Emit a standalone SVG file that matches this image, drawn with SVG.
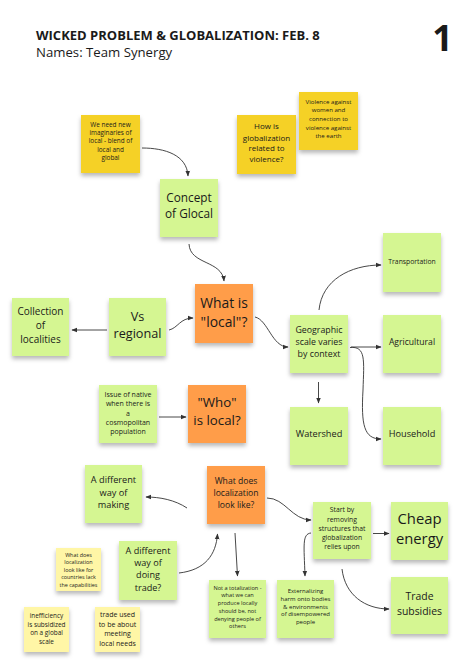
<svg xmlns="http://www.w3.org/2000/svg" width="474" height="661" viewBox="0 0 474 661">
<defs>
<filter id="sh" x="-20%" y="-20%" width="140%" height="150%">
<feDropShadow dx="0" dy="3" stdDeviation="2" flood-color="#000" flood-opacity="0.28"/>
</filter>
<marker id="ah" viewBox="0 0 10 10" refX="9" refY="5" markerWidth="6" markerHeight="6" markerUnits="userSpaceOnUse" orient="auto">
<path d="M0,1 L10,5 L0,9 Z" fill="#333"/>
</marker>
<style>
text{font-family:"Open Sans","Noto Sans","Liberation Sans",sans-serif;fill:#1a1a1a;text-anchor:middle}
.y{fill:#f5d128;filter:url(#sh)}
.p{fill:#fff6a6;filter:url(#sh)}
.g{fill:#d5f692;filter:url(#sh)}
.o{fill:#ff9d48;filter:url(#sh)}
.c path{fill:none;stroke:#333;stroke-width:0.9;marker-end:url(#ah)}
</style>
</defs>
<rect width="474" height="661" fill="#fff"/>
<g id="header">
<text x="36" y="39.5" style="text-anchor:start;font-weight:700;font-size:13px">WICKED PROBLEM &amp; GLOBALIZATION: FEB. 8</text>
<text x="36" y="57" style="text-anchor:start;font-size:13.2px">Names: Team Synergy</text>
<text x="442.5" y="50.5" style="font-weight:700;font-size:36px">1</text>
</g>
<g class="c" id="connectors">
<path d="M142,148 C165,148 187,155 188,176"/>
<path d="M189,244 C190,265 222,260 224,281"/>
<path d="M107,330 L72,330"/>
<path d="M169,330 C178,328 180,318 193,318"/>
<path d="M255,317 C268,320 272,347 288,347"/>
<path d="M319,310 C322,280 350,265 381,265"/>
<path d="M351,347 L381,347"/>
<path d="M350,347.5 C366,346 364,360 363,390 C361,425 364,439 381,439"/>
<path d="M318.5,382 L318.5,403"/>
<path d="M159,417 L186,417"/>
<path d="M187,508 C175,500 160,497 146,497"/>
<path d="M179,573 C205,570 216,555 217.5,534"/>
<path d="M235,533 L237.5,576"/>
<path d="M267,498 C285,498 292,520 311,520"/>
<path d="M373,533.5 L389,533.5"/>
<path d="M311,533 C302,534 304,545 305,576"/>
<path d="M342,569 C345,595 365,609 389,609"/>
</g>
<g id="n-imaginaries"><rect class="y" x="81" y="115" width="59" height="58"/>
<text style="font-size:6.4px"><tspan x="110.5" y="126.5">We need new</tspan><tspan x="110.5" y="134.9">imaginaries of</tspan><tspan x="110.5" y="143.2">local - blend of</tspan><tspan x="110.5" y="151.9">local and</tspan><tspan x="110.5" y="160.2">global</tspan></text></g>
<g id="n-violence-q"><rect class="y" x="237" y="115" width="59" height="59"/>
<text style="font-size:8px"><tspan x="266.5" y="129.3">How is</tspan><tspan x="266.5" y="140.5">globalization</tspan><tspan x="266.5" y="151.3">related to</tspan><tspan x="266.5" y="162.1">violence?</tspan></text></g>
<g id="n-violence-women"><rect class="y" x="299" y="92" width="59" height="58"/>
<text style="font-size:6.1px"><tspan x="328.5" y="103.8">Violence against</tspan><tspan x="328.5" y="112.4">women and</tspan><tspan x="328.5" y="120.9">connection to</tspan><tspan x="328.5" y="129.6">violence against</tspan><tspan x="328.5" y="138.2">the earth</tspan></text></g>
<g id="n-glocal"><rect class="g" x="160" y="179" width="58" height="58"/>
<text style="font-size:11.8px"><tspan x="189" y="202.4">Concept</tspan><tspan x="189" y="218.4">of Glocal</tspan></text></g>
<g id="n-local"><rect class="o" x="195" y="284" width="58" height="59"/>
<text style="font-size:13.9px"><tspan x="224" y="307.6">What is</tspan><tspan x="224" y="326.6">"local"?</tspan></text></g>
<g id="n-collection"><rect class="g" x="12" y="298" width="57" height="58"/>
<text style="font-size:10px"><tspan x="40.5" y="315.2">Collection</tspan><tspan x="40.5" y="329">of</tspan><tspan x="40.5" y="342.6">localities</tspan></text></g>
<g id="n-regional"><rect class="g" x="109" y="298" width="57" height="58"/>
<text style="font-size:12.7px"><tspan x="137.5" y="321.1">Vs</tspan><tspan x="137.5" y="338.4">regional</tspan></text></g>
<g id="n-geographic"><rect class="g" x="290" y="315" width="58" height="58"/>
<text style="font-size:8.8px"><tspan x="319" y="333.1">Geographic</tspan><tspan x="319" y="345.3">scale varies</tspan><tspan x="319" y="357.3">by context</tspan></text></g>
<g id="n-transportation"><rect class="g" x="383" y="233" width="58" height="59"/>
<text x="412" y="264.1" style="font-size:6.8px">Transportation</text></g>
<g id="n-agricultural"><rect class="g" x="383" y="315" width="58" height="58"/>
<text x="412" y="345.3" style="font-size:8.6px">Agricultural</text></g>
<g id="n-watershed"><rect class="g" x="290" y="407" width="58" height="58"/>
<text x="319" y="436.5" style="font-size:9.2px">Watershed</text></g>
<g id="n-household"><rect class="g" x="383" y="407" width="58" height="58"/>
<text x="412" y="436.5" style="font-size:9.2px">Household</text></g>
<g id="n-native"><rect class="g" x="99" y="385" width="58" height="58"/>
<text style="font-size:7px"><tspan x="128" y="397.2">Issue of native</tspan><tspan x="128" y="406.4">when there is</tspan><tspan x="128" y="415.5">a</tspan><tspan x="128" y="424.6">cosmopolitan</tspan><tspan x="128" y="433.8">population</tspan></text></g>
<g id="n-who"><rect class="o" x="188" y="385" width="58" height="58"/>
<text style="font-size:13.3px"><tspan x="217" y="407.4">"Who"</tspan><tspan x="217" y="425.4">is local?</tspan></text></g>
<g id="n-making"><rect class="g" x="85" y="465" width="57" height="58"/>
<text style="font-size:9.2px"><tspan x="113.5" y="483.4">A different</tspan><tspan x="113.5" y="496.2">way of</tspan><tspan x="113.5" y="508.4">making</tspan></text></g>
<g id="n-looklike"><rect class="o" x="207" y="466" width="58" height="58"/>
<text style="font-size:8.6px"><tspan x="236" y="483.7">What does</tspan><tspan x="236" y="495.9">localization</tspan><tspan x="236" y="508">look like?</tspan></text></g>
<g id="n-trade-q"><rect class="g" x="119" y="541" width="58" height="59"/>
<text style="font-size:9.1px"><tspan x="148" y="553.5">A different</tspan><tspan x="148" y="565.9">way of</tspan><tspan x="148" y="578.2">doing</tspan><tspan x="148" y="590.5">trade?</tspan></text></g>
<g id="n-start"><rect class="g" x="313" y="502" width="58" height="57"/>
<text style="font-size:6.8px"><tspan x="342" y="512.4">Start by</tspan><tspan x="342" y="521.6">removing</tspan><tspan x="342" y="530.8">structures that</tspan><tspan x="342" y="540">globalization</tspan><tspan x="342" y="549.2">relies upon</tspan></text></g>
<g id="n-energy"><rect class="g" x="391" y="502" width="57" height="58"/>
<text style="font-size:14.8px"><tspan x="419.5" y="523.5">Cheap</tspan><tspan x="419.5" y="543.5">energy</tspan></text></g>
<g id="n-subsidies"><rect class="g" x="391" y="577" width="57" height="57"/>
<text style="font-size:10.4px"><tspan x="419.5" y="600.3">Trade</tspan><tspan x="419.5" y="614.6">subsidies</tspan></text></g>
<g id="n-totalization"><rect class="g" x="209" y="580" width="57" height="58"/>
<text style="font-size:5.6px"><tspan x="237.5" y="589.7">Not a totalization -</tspan><tspan x="237.5" y="597.4">what we can</tspan><tspan x="237.5" y="605.1">produce locally</tspan><tspan x="237.5" y="612.8">should be, not</tspan><tspan x="237.5" y="620.5">denying people of</tspan><tspan x="237.5" y="628.2">others</tspan></text></g>
<g id="n-externalizing"><rect class="g" x="277" y="580" width="57" height="58"/>
<text style="font-size:6px"><tspan x="305.5" y="593.2">Externalizing</tspan><tspan x="305.5" y="600.9">harm onto bodies</tspan><tspan x="305.5" y="608.7">&amp; environments</tspan><tspan x="305.5" y="616.4">of disempowered</tspan><tspan x="305.5" y="624.1">people</tspan></text></g>
<g id="n-capabilities"><rect class="p" x="56" y="548" width="45" height="43"/>
<text style="font-size:5.4px"><tspan x="78.5" y="556.9">What does</tspan><tspan x="78.5" y="564.3">localization</tspan><tspan x="78.5" y="571.7">look like for</tspan><tspan x="78.5" y="579.1">countries lack</tspan><tspan x="78.5" y="586.5">the capabilities</tspan></text></g>
<g id="n-inefficiency"><rect class="p" x="24" y="607" width="45" height="45"/>
<text style="font-size:6.4px"><tspan x="46.5" y="617.9">inefficiency</tspan><tspan x="46.5" y="626.5">is subsidized</tspan><tspan x="46.5" y="635.2">on a global</tspan><tspan x="46.5" y="643.9">scale</tspan></text></g>
<g id="n-localneeds"><rect class="p" x="95" y="607" width="45" height="45"/>
<text style="font-size:7px"><tspan x="117.5" y="617.3">trade used</tspan><tspan x="117.5" y="626.7">to be about</tspan><tspan x="117.5" y="636.1">meeting</tspan><tspan x="117.5" y="645.5">local needs</tspan></text></g>
</svg>
